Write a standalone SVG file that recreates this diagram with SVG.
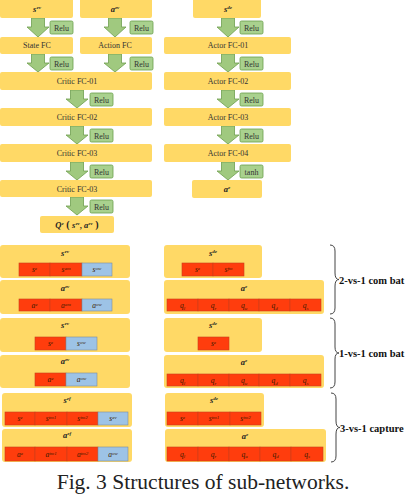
<svg xmlns="http://www.w3.org/2000/svg" width="406" height="496" viewBox="0 0 406 496">
<defs>
<style>
.yb{fill:#FFD966;}
.yo{fill:#FFD966;}
.rd{fill:#FF3D0D;stroke:#C8401C;stroke-width:0.6;}
.bl{fill:#9DC3E6;stroke:#7F8C99;stroke-width:0.6;}
.ar{fill:#A0C97F;stroke:#6F9E4F;stroke-width:0.8;}
.rl{fill:#A9D18E;stroke:#6A9F4B;stroke-width:0.8;}
.t{font-family:"Liberation Serif",serif;font-size:8px;fill:#333;text-anchor:middle;}
.m{font-family:"Liberation Serif",serif;font-size:8.5px;font-style:italic;font-weight:bold;fill:#222;text-anchor:middle;}
.mi{font-family:"Liberation Serif",serif;font-size:7.5px;font-style:italic;fill:#3a1a00;text-anchor:middle;}
.sp{font-size:5px;}
.br{fill:none;stroke:#444;stroke-width:1;}
.lb{font-family:"Liberation Serif",serif;font-size:10.5px;font-weight:bold;fill:#111;}
.cap{font-family:"Liberation Serif",serif;font-size:21.5px;fill:#222;text-anchor:middle;}
</style>
</defs>

<g id="connectors">
<path class="ar" d="M31.5 18H44.5V27H49L38 37L27 27H31.5Z"/>
<path class="ar" d="M108.5 18H121.5V27H126L115 37L104 27H108.5Z"/>
<path class="ar" d="M221.5 18H234.5V27H239L228 37L217 27H221.5Z"/>
<path class="ar" d="M31.5 54H44.5V63H49L38 72L27 63H31.5Z"/>
<path class="ar" d="M108.5 54H121.5V63H126L115 72L104 63H108.5Z"/>
<path class="ar" d="M221.5 54H234.5V63H239L228 72L217 63H221.5Z"/>
<path class="ar" d="M70.5 90H83.5V99H88L77 108L66 99H70.5Z"/>
<path class="ar" d="M221.5 90H234.5V99H239L228 108L217 99H221.5Z"/>
<path class="ar" d="M70.5 126H83.5V135H88L77 144L66 135H70.5Z"/>
<path class="ar" d="M221.5 126H234.5V135H239L228 144L217 135H221.5Z"/>
<path class="ar" d="M70.5 162H83.5V171H88L77 180L66 171H70.5Z"/>
<path class="ar" d="M221.5 162H234.5V171H239L228 180L217 171H221.5Z"/>
<path class="ar" d="M70.5 197H83.5V206H88L77 215L66 206H70.5Z"/>
<g id="acts">
<rect class="rl" x="50" y="21" width="23" height="13" rx="1.5"/><text class="t" x="61.5" y="30.5">Relu</text>
<rect class="rl" x="130" y="21" width="23" height="13" rx="1.5"/><text class="t" x="141.5" y="30.5">Relu</text>
<rect class="rl" x="240" y="21" width="23" height="13" rx="1.5"/><text class="t" x="251.5" y="30.5">Relu</text>
<rect class="rl" x="50" y="57" width="23" height="13" rx="1.5"/><text class="t" x="61.5" y="66.5">Relu</text>
<rect class="rl" x="130" y="57" width="23" height="13" rx="1.5"/><text class="t" x="141.5" y="66.5">Relu</text>
<rect class="rl" x="240" y="57" width="23" height="13" rx="1.5"/><text class="t" x="251.5" y="66.5">Relu</text>
<rect class="rl" x="90" y="93" width="23" height="13" rx="1.5"/><text class="t" x="101.5" y="102.5">Relu</text>
<rect class="rl" x="240" y="93" width="23" height="13" rx="1.5"/><text class="t" x="251.5" y="102.5">Relu</text>
<rect class="rl" x="90" y="129" width="23" height="13" rx="1.5"/><text class="t" x="101.5" y="138.5">Relu</text>
<rect class="rl" x="240" y="129" width="23" height="13" rx="1.5"/><text class="t" x="251.5" y="138.5">Relu</text>
<rect class="rl" x="90" y="165" width="23" height="13" rx="1.5"/><text class="t" x="101.5" y="174.5">Relu</text>
<rect class="rl" x="240" y="165" width="23" height="13" rx="1.5"/><text class="t" x="251.5" y="174.5">tanh</text>
<rect class="rl" x="90" y="200" width="23" height="13" rx="1.5"/><text class="t" x="101.5" y="209.5">Relu</text>
</g>
</g>

<g id="n-sev"><rect class="yb" x="0" y="-3" width="73" height="21" rx="2"/><text class="m" x="37" y="12">s<tspan class="sp" dy="-3">ev</tspan></text></g>
<g id="n-aev"><rect class="yb" x="80" y="-3" width="72" height="21" rx="2"/><text class="m" x="115" y="12">a<tspan class="sp" dy="-3">ev</tspan></text></g>
<g id="n-sde"><rect class="yb" x="193" y="-3" width="68" height="21" rx="2"/><text class="m" x="228" y="12">s<tspan class="sp" dy="-3">de</tspan></text></g>
<g id="n-statefc"><rect class="yb" x="0" y="37" width="73" height="17" rx="2"/><text class="t" x="37" y="48">State FC</text></g>
<g id="n-actionfc"><rect class="yb" x="80" y="37" width="72" height="17" rx="2"/><text class="t" x="115" y="48">Action FC</text></g>
<g id="n-actor1"><rect class="yb" x="164" y="37" width="127" height="17" rx="2"/><text class="t" x="228" y="48">Actor FC-01</text></g>
<g id="n-critic1"><rect class="yb" x="0" y="72" width="152" height="18" rx="2"/><text class="t" x="77" y="84">Critic FC-01</text></g>
<g id="n-actor2"><rect class="yb" x="164" y="72" width="127" height="18" rx="2"/><text class="t" x="228" y="84">Actor FC-02</text></g>
<g id="n-critic2"><rect class="yb" x="0" y="108" width="152" height="18" rx="2"/><text class="t" x="77" y="120">Critic FC-02</text></g>
<g id="n-actor3"><rect class="yb" x="164" y="108" width="127" height="18" rx="2"/><text class="t" x="228" y="120">Actor FC-03</text></g>
<g id="n-critic3"><rect class="yb" x="0" y="144" width="152" height="18" rx="2"/><text class="t" x="77" y="156">Critic FC-03</text></g>
<g id="n-actor4"><rect class="yb" x="164" y="144" width="127" height="18" rx="2"/><text class="t" x="228" y="156">Actor FC-04</text></g>
<g id="n-critic4"><rect class="yb" x="0" y="180" width="152" height="17" rx="2"/><text class="t" x="77" y="191.5">Critic FC-03</text></g>
<g id="n-ae"><rect class="yb" x="192" y="180" width="70" height="18" rx="2"/><text class="m" x="227" y="192">a<tspan class="sp" dy="-3">e</tspan></text></g>
<g id="n-q"><rect class="yb" x="40" y="216" width="74" height="17" rx="2"/><text class="m" x="77" y="228" font-weight="normal">Q<tspan class="sp" dy="-3">e</tspan><tspan dy="3" font-style="normal" font-size="10"> ( </tspan><tspan font-weight="bold">s</tspan><tspan class="sp" dy="-3">ev</tspan><tspan dy="3" font-style="normal">, </tspan><tspan font-weight="bold">a</tspan><tspan class="sp" dy="-3">ev</tspan><tspan dy="3" font-style="normal" font-size="10"> )</tspan></text></g>

<!-- 2-vs-1 -->
<g id="c21-s">
<rect class="yo" x="0" y="245" width="130" height="33" rx="3"/>
<text class="m" x="65" y="256">s<tspan class="sp" dy="-3">ev</tspan></text>
<rect class="rd" x="19" y="263" width="31" height="13"/><text class="mi" x="34.5" y="272">s<tspan class="sp" dy="-2">e</tspan></text>
<rect class="rd" x="50" y="263" width="32" height="13"/><text class="mi" x="66" y="272">s<tspan class="sp" dy="-2">am</tspan></text>
<rect class="bl" x="82" y="263" width="30" height="13"/><text class="mi" x="97" y="272">s<tspan class="sp" dy="-2">ow</tspan></text>
</g>
<g id="c21-a">
<rect class="yo" x="0" y="280" width="130" height="34" rx="3"/>
<text class="m" x="65" y="291">a<tspan class="sp" dy="-3">ev</tspan></text>
<rect class="rd" x="19" y="299" width="31" height="12"/><text class="mi" x="34.5" y="308">a<tspan class="sp" dy="-2">e</tspan></text>
<rect class="rd" x="50" y="299" width="32" height="12"/><text class="mi" x="66" y="308">a<tspan class="sp" dy="-2">am</tspan></text>
<rect class="bl" x="82" y="299" width="30" height="12"/><text class="mi" x="97" y="308">a<tspan class="sp" dy="-2">ow</tspan></text>
</g>
<g id="c21-sd">
<rect class="yo" x="164" y="245" width="98" height="33" rx="3"/>
<text class="m" x="213" y="256">s<tspan class="sp" dy="-3">de</tspan></text>
<rect class="rd" x="182" y="263" width="31" height="13"/><text class="mi" x="197.5" y="272">s<tspan class="sp" dy="-2">e</tspan></text>
<rect class="rd" x="213" y="263" width="31" height="13"/><text class="mi" x="228.5" y="272">s<tspan class="sp" dy="-2">fm</tspan></text>
</g>
<g id="c21-ae">
<rect class="yo" x="164" y="280" width="160" height="34" rx="3"/>
<text class="m" x="244" y="291">a<tspan class="sp" dy="-3">e</tspan></text>
<rect class="rd" x="167" y="299" width="31" height="12"/><text class="mi" x="182.5" y="308">q<tspan class="sp" dy="1.5">l</tspan></text>
<rect class="rd" x="198" y="299" width="31" height="12"/><text class="mi" x="213.5" y="308">q<tspan class="sp" dy="1.5">r</tspan></text>
<rect class="rd" x="229" y="299" width="30" height="12"/><text class="mi" x="244" y="308">q<tspan class="sp" dy="1.5">u</tspan></text>
<rect class="rd" x="259" y="299" width="31" height="12"/><text class="mi" x="274.5" y="308">q<tspan class="sp" dy="1.5">d</tspan></text>
<rect class="rd" x="290" y="299" width="31" height="12"/><text class="mi" x="305.5" y="308">q<tspan class="sp" dy="1.5">s</tspan></text>
</g>
<g id="b21">
<path class="br" d="M330 245Q335 245 335 251V273Q335 279.5 339 279.5Q335 279.5 335 286V308Q335 314 330 314"/>
<text class="lb" x="339" y="283.5">2-vs-1 com bat</text>
</g>

<!-- 1-vs-1 -->
<g id="c11-s">
<rect class="yo" x="0" y="318" width="130" height="34" rx="3"/>
<text class="m" x="65" y="328">s<tspan class="sp" dy="-3">ev</tspan></text>
<rect class="rd" x="35" y="337" width="31" height="13"/><text class="mi" x="50.5" y="346">s<tspan class="sp" dy="-2">e</tspan></text>
<rect class="bl" x="66" y="337" width="31" height="13"/><text class="mi" x="81.5" y="346">s<tspan class="sp" dy="-2">ow</tspan></text>
</g>
<g id="c11-a">
<rect class="yo" x="0" y="355" width="130" height="33" rx="3"/>
<text class="m" x="65" y="364">a<tspan class="sp" dy="-3">ev</tspan></text>
<rect class="rd" x="35" y="373" width="31" height="13"/><text class="mi" x="50.5" y="382">a<tspan class="sp" dy="-2">e</tspan></text>
<rect class="bl" x="66" y="373" width="31" height="13"/><text class="mi" x="81.5" y="382">a<tspan class="sp" dy="-2">ow</tspan></text>
</g>
<g id="c11-sd">
<rect class="yo" x="164" y="318" width="98" height="34" rx="3"/>
<text class="m" x="213" y="328">s<tspan class="sp" dy="-3">de</tspan></text>
<rect class="rd" x="198" y="337" width="31" height="13"/><text class="mi" x="213.5" y="346">s<tspan class="sp" dy="-2">e</tspan></text>
</g>
<g id="c11-ae">
<rect class="yo" x="164" y="355" width="160" height="33" rx="3"/>
<text class="m" x="244" y="365">a<tspan class="sp" dy="-3">e</tspan></text>
<rect class="rd" x="167" y="374" width="31" height="12"/><text class="mi" x="182.5" y="383">q<tspan class="sp" dy="1.5">l</tspan></text>
<rect class="rd" x="198" y="374" width="31" height="12"/><text class="mi" x="213.5" y="383">q<tspan class="sp" dy="1.5">r</tspan></text>
<rect class="rd" x="229" y="374" width="30" height="12"/><text class="mi" x="244" y="383">q<tspan class="sp" dy="1.5">u</tspan></text>
<rect class="rd" x="259" y="374" width="31" height="12"/><text class="mi" x="274.5" y="383">q<tspan class="sp" dy="1.5">d</tspan></text>
<rect class="rd" x="290" y="374" width="31" height="12"/><text class="mi" x="305.5" y="383">q<tspan class="sp" dy="1.5">s</tspan></text>
</g>
<g id="b11">
<path class="br" d="M330 318Q335 318 335 324V347Q335 353 339 353Q335 353 335 359V382Q335 388 330 388"/>
<text class="lb" x="339" y="357">1-vs-1 com bat</text>
</g>

<!-- 3-vs-1 -->
<g id="c31-s">
<rect class="yo" x="2" y="393" width="130" height="34" rx="3"/>
<text class="m" x="67" y="403">s<tspan class="sp" dy="-3">ef</tspan></text>
<rect class="rd" x="5" y="412" width="30" height="13"/><text class="mi" x="20" y="421">s<tspan class="sp" dy="-2">e</tspan></text>
<rect class="rd" x="35" y="412" width="32" height="13"/><text class="mi" x="51" y="421">s<tspan class="sp" dy="-2">tm1</tspan></text>
<rect class="rd" x="67" y="412" width="31" height="13"/><text class="mi" x="82.5" y="421">s<tspan class="sp" dy="-2">tm2</tspan></text>
<rect class="bl" x="98" y="412" width="30" height="13"/><text class="mi" x="113" y="421">s<tspan class="sp" dy="-2">ev</tspan></text>
</g>
<g id="c31-a">
<rect class="yo" x="2" y="429" width="130" height="33" rx="3"/>
<text class="m" x="67" y="438">a<tspan class="sp" dy="-3">ef</tspan></text>
<rect class="rd" x="5" y="447" width="30" height="14"/><text class="mi" x="20" y="456.5">a<tspan class="sp" dy="-2">e</tspan></text>
<rect class="rd" x="35" y="447" width="32" height="14"/><text class="mi" x="51" y="456.5">a<tspan class="sp" dy="-2">tm1</tspan></text>
<rect class="rd" x="67" y="447" width="31" height="14"/><text class="mi" x="82.5" y="456.5">a<tspan class="sp" dy="-2">tm2</tspan></text>
<rect class="bl" x="98" y="447" width="30" height="14"/><text class="mi" x="113" y="456.5">a<tspan class="sp" dy="-2">ow</tspan></text>
</g>
<g id="c31-sd">
<rect class="yo" x="165" y="393" width="99" height="34" rx="3"/>
<text class="m" x="214" y="403">s<tspan class="sp" dy="-3">de</tspan></text>
<rect class="rd" x="167" y="412" width="31" height="13"/><text class="mi" x="182.5" y="421">s<tspan class="sp" dy="-2">e</tspan></text>
<rect class="rd" x="198" y="412" width="32" height="13"/><text class="mi" x="214" y="421">s<tspan class="sp" dy="-2">tm1</tspan></text>
<rect class="rd" x="230" y="412" width="31" height="13"/><text class="mi" x="245.5" y="421">s<tspan class="sp" dy="-2">tm2</tspan></text>
</g>
<g id="c31-ae">
<rect class="yo" x="165" y="429" width="161" height="33" rx="3"/>
<text class="m" x="245" y="439">a<tspan class="sp" dy="-3">e</tspan></text>
<rect class="rd" x="167" y="447" width="31" height="14"/><text class="mi" x="182.5" y="456.5">q<tspan class="sp" dy="1.5">l</tspan></text>
<rect class="rd" x="198" y="447" width="31" height="14"/><text class="mi" x="213.5" y="456.5">q<tspan class="sp" dy="1.5">r</tspan></text>
<rect class="rd" x="229" y="447" width="31" height="14"/><text class="mi" x="244.5" y="456.5">q<tspan class="sp" dy="1.5">u</tspan></text>
<rect class="rd" x="260" y="447" width="31" height="14"/><text class="mi" x="275.5" y="456.5">q<tspan class="sp" dy="1.5">d</tspan></text>
<rect class="rd" x="291" y="447" width="32" height="14"/><text class="mi" x="307" y="456.5">q<tspan class="sp" dy="1.5">s</tspan></text>
</g>
<g id="b31">
<path class="br" d="M331 393Q336 393 336 399V421Q336 427.5 340 427.5Q336 427.5 336 434V456Q336 462 331 462"/>
<text class="lb" x="340" y="431.5">3-vs-1 capture</text>
</g>

<text class="cap" x="203" y="489">Fig. 3 Structures of sub-networks.</text>
</svg>
